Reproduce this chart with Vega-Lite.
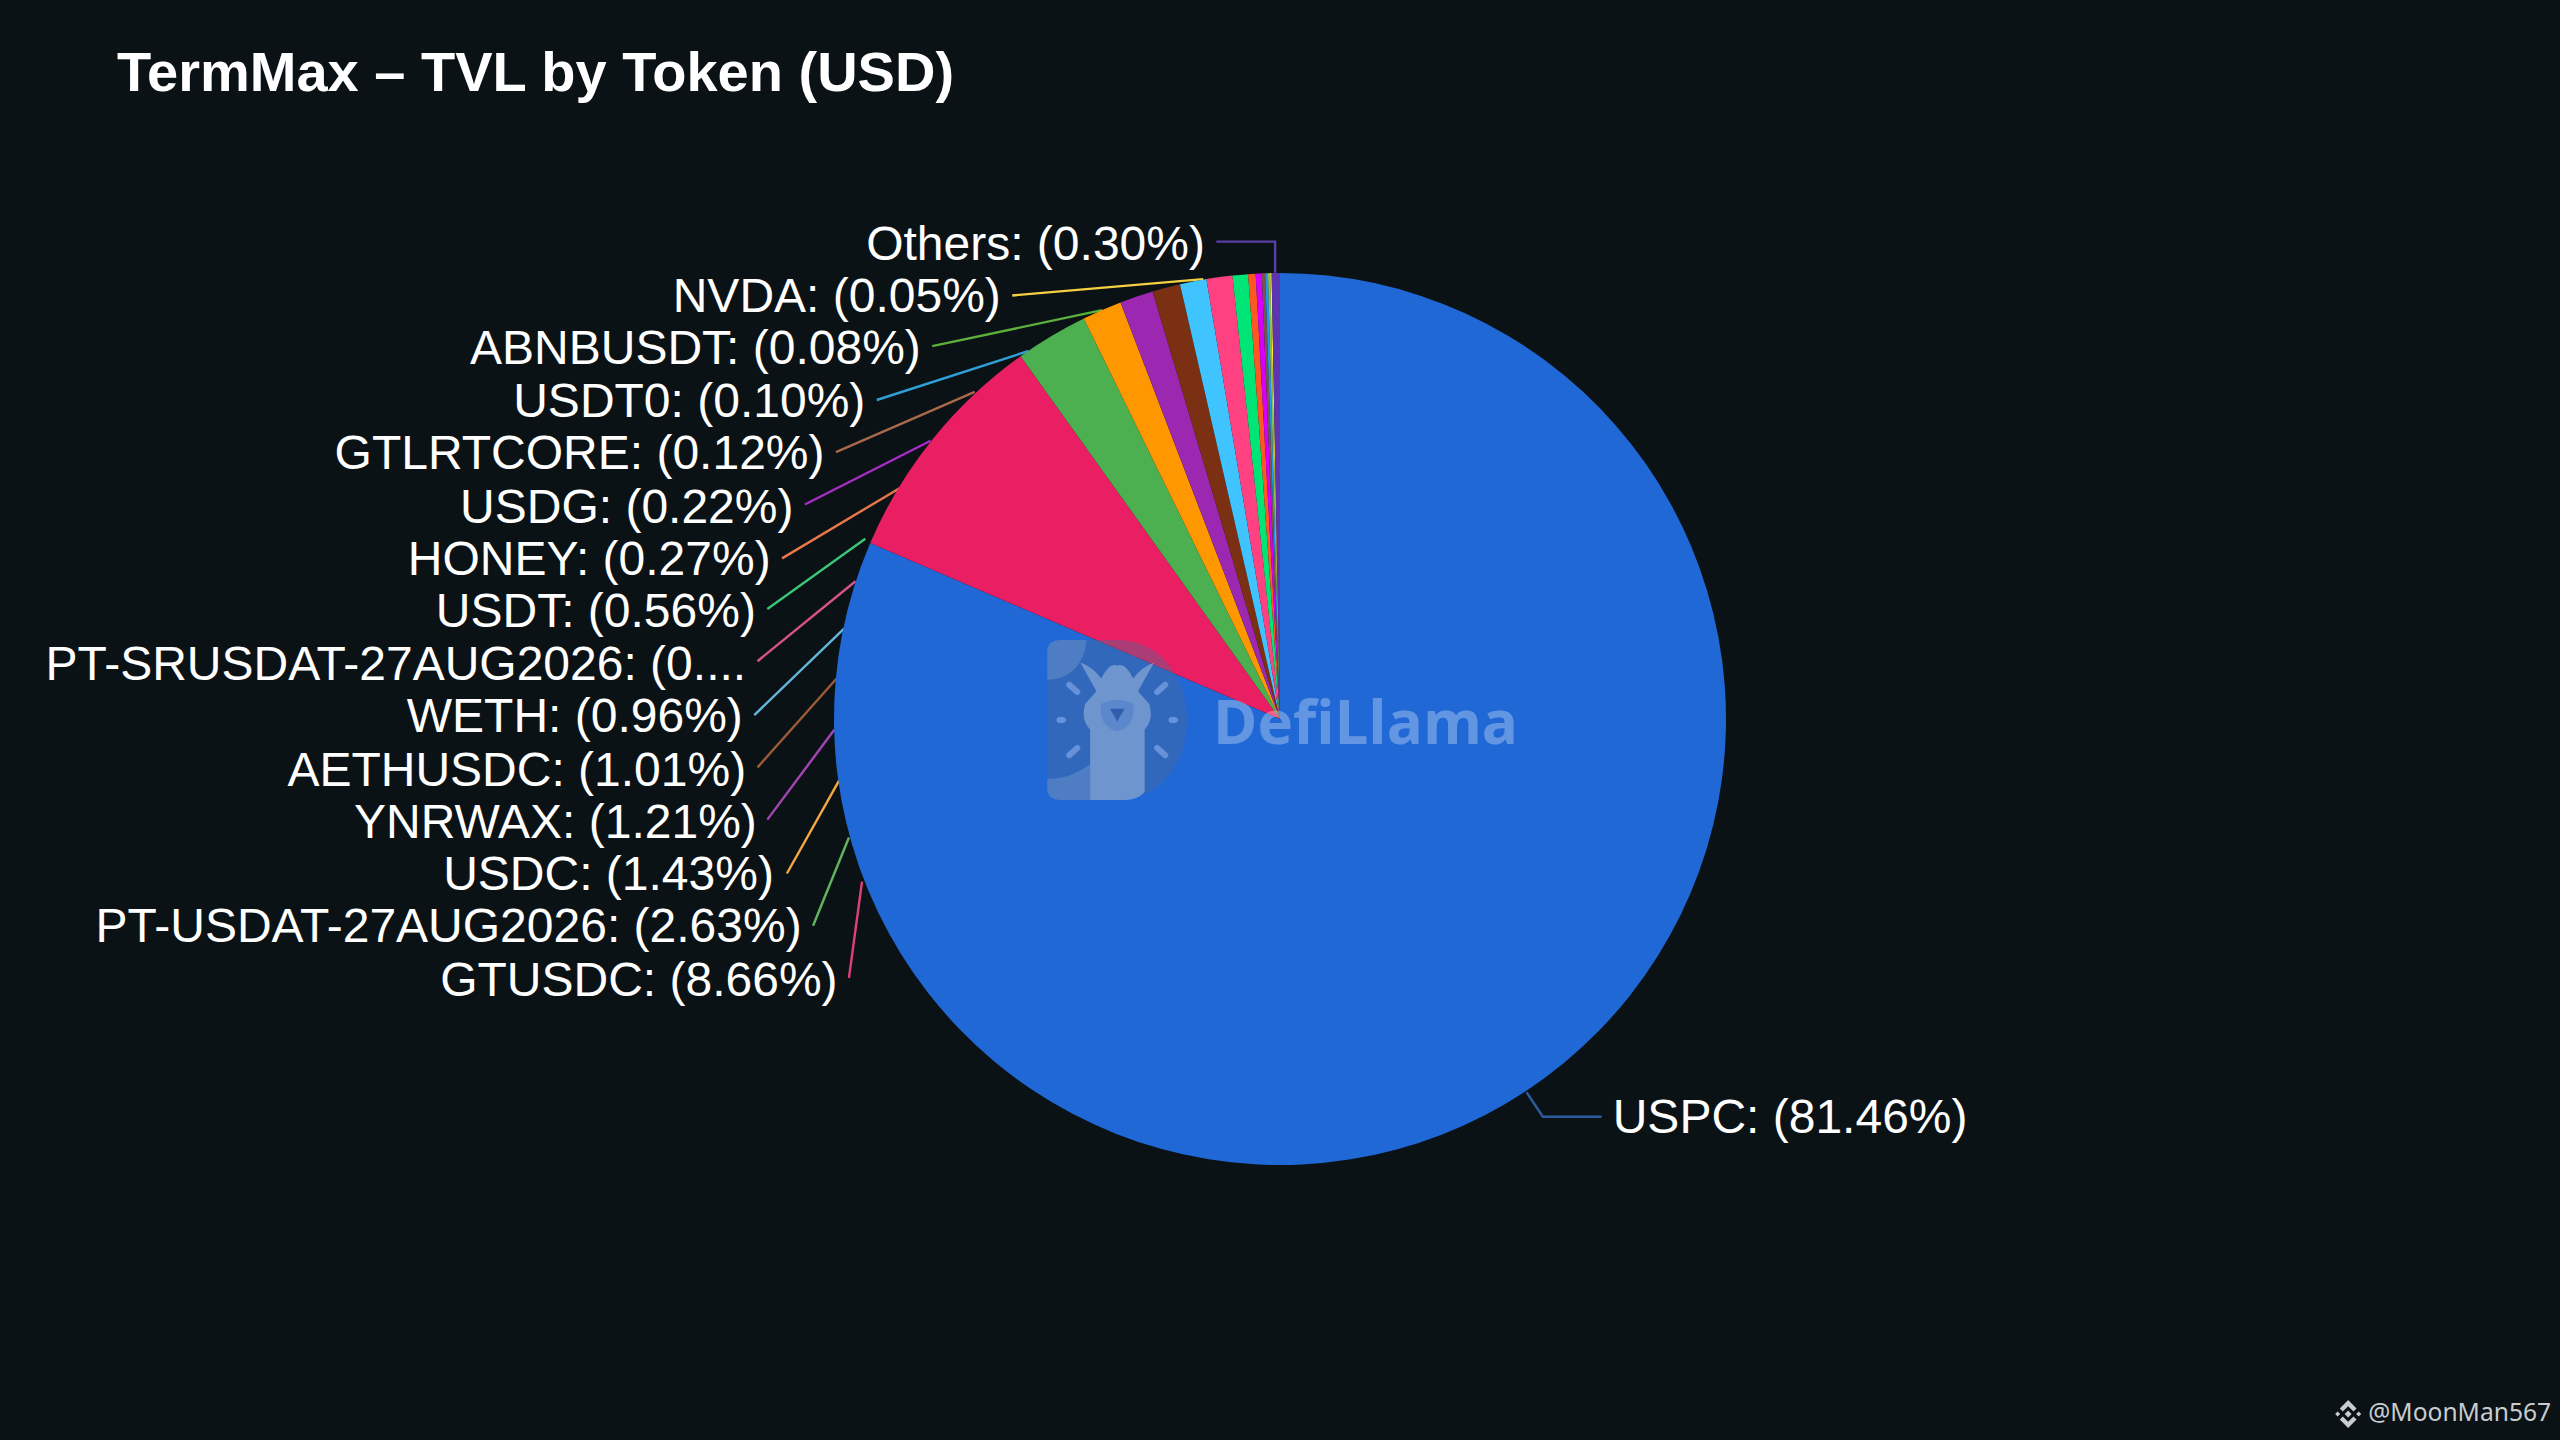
{
  "$schema": "https://vega.github.io/schema/vega-lite/v6.json",
  "width": 2560,
  "height": 1440,
  "padding": 0,
  "autosize": {"type": "fit", "contains": "padding"},
  "background": "#0b1215",
  "title": {
    "text": "TermMax – TVL by Token (USD)",
    "anchor": "start",
    "frame": "group",
    "offset": -103,
    "dx": 117,
    "font": "Liberation Sans",
    "fontSize": 56,
    "fontWeight": "bold",
    "color": "#ffffff"
  },
  "config": {"view": {"stroke": null}},
  "datasets": {
    "slices": [
      {"token": "USPC", "rank": 1, "share": 81.46},
      {"token": "GTUSDC", "rank": 2, "share": 8.66},
      {"token": "PT-USDAT-27AUG2026", "rank": 3, "share": 2.63},
      {"token": "USDC", "rank": 4, "share": 1.43},
      {"token": "YNRWAX", "rank": 5, "share": 1.21},
      {"token": "AETHUSDC", "rank": 6, "share": 1.01},
      {"token": "WETH", "rank": 7, "share": 0.96},
      {"token": "PT-SRUSDAT-27AUG2026", "rank": 8, "share": 0.94},
      {"token": "USDT", "rank": 9, "share": 0.56},
      {"token": "HONEY", "rank": 10, "share": 0.27},
      {"token": "USDG", "rank": 11, "share": 0.22},
      {"token": "GTLRTCORE", "rank": 12, "share": 0.12},
      {"token": "USDT0", "rank": 13, "share": 0.10},
      {"token": "ABNBUSDT", "rank": 14, "share": 0.08},
      {"token": "NVDA", "rank": 15, "share": 0.05},
      {"token": "Others", "rank": 16, "share": 0.30}
    ],
    "labelsRight": [
      {"label": "USPC: (81.46%)", "lx": 74.6, "ly": -89.5}
    ],
    "labelsLeft": [
      {"label": "GTUSDC: (8.66%)", "lx": -99.2, "ly": -58.8},
      {"label": "PT-USDAT-27AUG2026: (2.63%)", "lx": -107.26, "ly": -46.7},
      {"label": "USDC: (1.43%)", "lx": -113.48, "ly": -35.0},
      {"label": "YNRWAX: (1.21%)", "lx": -117.3, "ly": -23.3},
      {"label": "AETHUSDC: (1.01%)", "lx": -119.7, "ly": -11.55},
      {"label": "WETH: (0.96%)", "lx": -120.44, "ly": 0.5},
      {"label": "PT-SRUSDAT-27AUG2026: (0....", "lx": -119.7, "ly": 12.2},
      {"label": "USDT: (0.56%)", "lx": -117.51, "ly": 23.95},
      {"label": "HONEY: (0.27%)", "lx": -114.21, "ly": 35.65},
      {"label": "USDG: (0.22%)", "lx": -109.09, "ly": 47.4},
      {"label": "GTLRTCORE: (0.12%)", "lx": -102.13, "ly": 59.45},
      {"label": "USDT0: (0.10%)", "lx": -92.98, "ly": 71.15},
      {"label": "ABNBUSDT: (0.08%)", "lx": -80.53, "ly": 82.9},
      {"label": "NVDA: (0.05%)", "lx": -62.6, "ly": 94.6},
      {"label": "Others: (0.30%)", "lx": -16.83, "ly": 106.3}
    ],
    "leaders": [
      {"token": "USPC", "seq": 1, "lx": 72.12, "ly": -88.96},
      {"token": "USPC", "seq": 2, "lx": 58.94, "ly": -88.96},
      {"token": "USPC", "seq": 3, "lx": 55.28, "ly": -83.47},
      {"token": "GTUSDC", "seq": 1, "lx": -96.65, "ly": -57.84},
      {"token": "GTUSDC", "seq": 2, "lx": -93.72, "ly": -36.24},
      {"token": "PT-USDAT-27AUG2026", "seq": 1, "lx": -104.7, "ly": -46.13},
      {"token": "PT-USDAT-27AUG2026", "seq": 2, "lx": -96.65, "ly": -26.36},
      {"token": "USDC", "seq": 1, "lx": -110.56, "ly": -34.41},
      {"token": "USDC", "seq": 2, "lx": -98.84, "ly": -13.55},
      {"token": "YNRWAX", "seq": 1, "lx": -114.95, "ly": -22.33},
      {"token": "YNRWAX", "seq": 2, "lx": -99.94, "ly": -2.2},
      {"token": "AETHUSDC", "seq": 1, "lx": -117.15, "ly": -10.62},
      {"token": "AETHUSDC", "seq": 2, "lx": -99.21, "ly": 9.52},
      {"token": "WETH", "seq": 1, "lx": -117.88, "ly": 1.10},
      {"token": "WETH", "seq": 2, "lx": -97.74, "ly": 20.5},
      {"token": "PT-SRUSDAT-27AUG2026", "seq": 1, "lx": -117.15, "ly": 13.18},
      {"token": "PT-SRUSDAT-27AUG2026", "seq": 2, "lx": -95.18, "ly": 31.12},
      {"token": "USDT", "seq": 1, "lx": -114.95, "ly": 24.89},
      {"token": "USDT", "seq": 2, "lx": -92.98, "ly": 40.64},
      {"token": "HONEY", "seq": 1, "lx": -111.65, "ly": 36.24},
      {"token": "HONEY", "seq": 2, "lx": -85.3, "ly": 51.98},
      {"token": "USDG", "seq": 1, "lx": -106.53, "ly": 48.32},
      {"token": "USDG", "seq": 2, "lx": -78.34, "ly": 62.6},
      {"token": "GTLRTCORE", "seq": 1, "lx": -99.57, "ly": 60.04},
      {"token": "GTLRTCORE", "seq": 2, "lx": -68.46, "ly": 73.58},
      {"token": "USDT0", "seq": 1, "lx": -90.42, "ly": 71.75},
      {"token": "USDT0", "seq": 2, "lx": -56.38, "ly": 82.73},
      {"token": "ABNBUSDT", "seq": 1, "lx": -77.98, "ly": 83.83},
      {"token": "ABNBUSDT", "seq": 2, "lx": -39.9, "ly": 91.89},
      {"token": "NVDA", "seq": 1, "lx": -60.04, "ly": 95.18},
      {"token": "NVDA", "seq": 2, "lx": -17.21, "ly": 98.84},
      {"token": "Others", "seq": 1, "lx": -14.28, "ly": 107.26},
      {"token": "Others", "seq": 2, "lx": -1.1, "ly": 107.26},
      {"token": "Others", "seq": 3, "lx": -1.1, "ly": 100.3}
    ],
    "logo": [{"lx": -36.5, "ly": 0}],
    "brand": [{"lx": -15, "ly": -1.4, "text": "DefiLlama"}],
    "credit": [{"lx": 244, "ly": -155.6, "text": "@MoonMan567"}],
    "creditIcon": [{"lx": 239.5, "ly": -155.6}]
  },
  "encoding": {
    "x": {"field": "lx", "type": "quantitative", "axis": null, "scale": {"domain": [-287, 287], "nice": false, "zero": false}},
    "y": {"field": "ly", "type": "quantitative", "axis": null, "scale": {"domain": [-161.43, 161.43], "nice": false, "zero": false}}
  },
  "layer": [
    {
      "data": {"name": "leaders"},
      "mark": {"type": "line", "strokeWidth": 2.4},
      "encoding": {
        "detail": {"field": "token"},
        "order": {"field": "seq"},
        "color": {
          "field": "token",
          "legend": null,
          "scale": {
            "domain": ["USPC", "GTUSDC", "PT-USDAT-27AUG2026", "USDC", "YNRWAX", "AETHUSDC", "WETH", "PT-SRUSDAT-27AUG2026", "USDT", "HONEY", "USDG", "GTLRTCORE", "USDT0", "ABNBUSDT", "NVDA", "Others"],
            "range": ["#2b5a9e", "#e0407a", "#63b45f", "#f5a742", "#a445b5", "#9c5a35", "#63b5dd", "#d8528a", "#3cc477", "#e8774a", "#a92bc8", "#a9694a", "#2f9fd8", "#5cb03c", "#f5d142", "#5b3fa5"]
          }
        }
      }
    },
    {
      "data": {"name": "slices"},
      "mark": {"type": "arc", "outerRadius": 446},
      "encoding": {
        "x": {"value": 1280},
        "y": {"value": 719},
        "theta": {"field": "share", "type": "quantitative", "stack": true},
        "order": {"field": "rank"},
        "color": {
          "field": "token",
          "legend": null,
          "scale": {
            "domain": ["USPC", "GTUSDC", "PT-USDAT-27AUG2026", "USDC", "YNRWAX", "AETHUSDC", "WETH", "PT-SRUSDAT-27AUG2026", "USDT", "HONEY", "USDG", "GTLRTCORE", "USDT0", "ABNBUSDT", "NVDA", "Others"],
            "range": ["#2068d6", "#e91e63", "#4caf50", "#ff9800", "#9c27b0", "#7b3014", "#40c4ff", "#ff4081", "#00e676", "#ff5722", "#d500f9", "#795548", "#2196f3", "#8bc34a", "#ffeb3b", "#5e35b1"]
          }
        }
      }
    },
    {
      "data": {"name": "logo"},
      "mark": {"type": "point", "filled": true, "fill": "#4a6a94", "opacity": 0.4, "size": 25600, "shape": "M-.875 -.85 Q-.875 -1 -.7 -1 L0 -1 C.55 -1 .875 -.5 .875 0 C.875 .5 .55 1 0 1 L-.7 1 Q-.875 1 -.875 .85 Z"}
    },
    {
      "data": {"name": "logo"},
      "mark": {"type": "point", "filled": true, "fill": "#ffffff", "opacity": 0.14, "size": 25600, "shape": "M-.875 -.85 Q-.875 -1 -.7 -1 L-.386 -1 C-.4 -.7 -.6 -.5 -.875 -.504 Z M-.875 .735 C-.7 .74 -.5 .68 -.338 .55 L-.338 1 L-.7 1 Q-.875 1 -.875 .85 Z"}
    },
    {
      "data": {"name": "logo"},
      "mark": {"type": "point", "filled": true, "fill": "#ffffff", "opacity": 0.3, "size": 25600, "shape": "M-.338 1 L.1 1 Q.25 1 .343 .9 L.343 .12 Q.46 .0 .4 -.2 L.26 -.36 L.46 -.72 Q.3 -.66 .2 -.52 Q.1 -.72 0 -.68 Q-.1 -.72 -.2 -.52 Q-.3 -.66 -.46 -.72 L-.26 -.36 L-.4 -.2 Q-.46 .0 -.338 .12 Z"}
    },
    {
      "data": {"name": "logo"},
      "mark": {"type": "point", "filled": true, "fill": "#4f7fca", "opacity": 0.6, "size": 25600, "shape": "M-.2 -.2 Q0 -.3 .2 -.2 Q.24 .08 0 .14 Q-.24 .08 -.2 -.2 Z"}
    },
    {
      "data": {"name": "logo"},
      "mark": {"type": "point", "filled": false, "stroke": "#7fa3e6", "opacity": 0.7, "strokeWidth": 6, "strokeCap": "round", "size": 25600, "shape": "M-.6 -.44 L-.5 -.35 M.5 -.35 L.6 -.44 M-.72 0 L-.68 0 M.68 0 L.72 0 M-.6 .44 L-.5 .35 M.5 .35 L.6 .44"}
    },
    {
      "data": {"name": "logo"},
      "mark": {"type": "point", "filled": true, "fill": "#2a5aa8", "opacity": 0.9, "size": 25600, "shape": "M-.09 -.14 L.09 -.14 L0 .02 Z"}
    },
    {
      "data": {"name": "brand"},
      "mark": {"type": "text", "align": "left", "baseline": "middle", "font": "Open Sans", "fontWeight": "bold", "fontSize": 60, "fill": "#ffffff", "opacity": 0.3},
      "encoding": {"text": {"field": "text"}}
    },
    {
      "data": {"name": "labelsLeft"},
      "mark": {"type": "text", "align": "right", "baseline": "middle", "font": "Liberation Sans", "fontSize": 48, "fill": "#ffffff"},
      "encoding": {"text": {"field": "label"}}
    },
    {
      "data": {"name": "labelsRight"},
      "mark": {"type": "text", "align": "left", "baseline": "middle", "font": "Liberation Sans", "fontSize": 48, "fill": "#ffffff"},
      "encoding": {"text": {"field": "label"}}
    },
    {
      "data": {"name": "credit"},
      "mark": {"type": "text", "align": "left", "baseline": "middle", "font": "Noto Sans", "fontSize": 24.6, "fill": "#c8ccce"},
      "encoding": {"text": {"field": "text"}}
    },
    {
      "data": {"name": "creditIcon"},
      "mark": {"type": "point", "filled": true, "fill": "#c8ccce", "opacity": 1, "size": 784, "shape": "M0 -.25 L.25 0 L0 .25 L-.25 0 Z M-.75 -.18 L-.57 0 L-.75 .18 L-.93 0 Z M.75 -.18 L.93 0 L.75 .18 L.57 0 Z M0 -1 L.6 -.4 L.38 -.18 L0 -.55 L-.38 -.18 L-.6 -.4 Z M0 1 L-.6 .4 L-.38 .18 L0 .55 L.38 .18 L.6 .4 Z"}
    }
  ],
  "resolve": {"scale": {"color": "independent"}}
}
